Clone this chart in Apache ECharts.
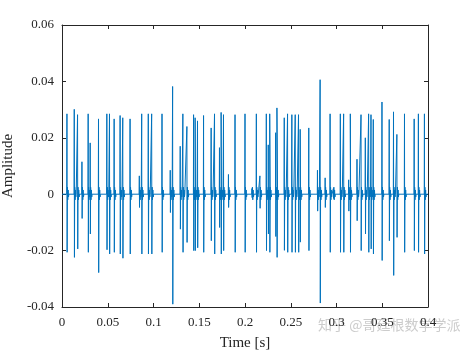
<!DOCTYPE html>
<html>
<head>
<meta charset="utf-8">
<script src="https://cdn.jsdelivr.net/npm/echarts@6/dist/echarts.min.js"></script>
<style>
  html, body { margin: 0; padding: 0; background: #fff; }
  #main { width: 474px; height: 355px; }
</style>
</head>
<body>
<div id="main"></div>
<script>
// spike times [s], positive peaks and negative troughs
let spikeTimes = [
    0.0054, 0.0134, 0.0170, 0.0218, 0.0286, 0.0308, 0.0399, 0.0490, 0.0519, 0.0570,
    0.0635, 0.0664, 0.0744, 0.0845, 0.0871, 0.0943, 0.0980, 0.1093, 0.1183, 0.1209,
    0.1292, 0.1321, 0.1365, 0.1438, 0.1455, 0.1481, 0.1547, 0.1630, 0.1667, 0.1721,
    0.1739, 0.1765, 0.1819, 0.1891, 0.2000, 0.2076, 0.2124, 0.2163, 0.2233, 0.2254,
    0.2270, 0.2335, 0.2349, 0.2429, 0.2465, 0.2512, 0.2549, 0.2585, 0.2603, 0.2697,
    0.2792, 0.2821, 0.2876, 0.2930, 0.2966, 0.3042, 0.3078, 0.3133, 0.3151, 0.3224,
    0.3268, 0.3315, 0.3351, 0.3377, 0.3402, 0.3497, 0.3576, 0.3623, 0.3660, 0.3743,
    0.3849, 0.3895, 0.3961
];
let spikePeaks = [
    0.0285, 0.0301, 0.0282, 0.0115, 0.0285, 0.0182, 0.0267, 0.0285, 0.0285, 0.0267,
    0.0279, 0.0271, 0.0267, 0.0065, 0.0285, 0.0285, 0.0285, 0.0285, 0.0085, 0.0382,
    0.0170, 0.0285, 0.0240, 0.0282, 0.0271, 0.0260, 0.0279, 0.0235, 0.0285, 0.0165,
    0.0290, 0.0282, 0.0070, 0.0282, 0.0285, 0.0020, 0.0285, 0.0065, 0.0285, 0.0175,
    0.0285, 0.0218, 0.0306, 0.0271, 0.0285, 0.0282, 0.0282, 0.0282, 0.0230, 0.0235,
    0.0085, 0.0406, 0.0058, 0.0285, 0.0020, 0.0285, 0.0285, 0.0051, 0.0285, 0.0124,
    0.0282, 0.0200, 0.0285, 0.0282, 0.0265, 0.0327, 0.0265, 0.0292, 0.0212, 0.0285,
    0.0267, 0.0285, 0.0285
];
let spikeTroughs = [
    -0.0206, -0.0224, -0.0194, -0.0086, -0.0206, -0.0141, -0.0278, -0.0197, -0.0212, -0.0206,
    -0.0212, -0.0227, -0.0212, -0.0047, -0.0212, -0.0212, -0.0212, -0.0206, -0.0065, -0.0390,
    -0.0124, -0.0206, -0.0171, -0.0200, -0.0200, -0.0190, -0.0206, -0.0165, -0.0212, -0.0118,
    -0.0212, -0.0200, -0.0047, -0.0206, -0.0206, -0.0012, -0.0206, -0.0050, -0.0200, -0.0141,
    -0.0206, -0.0150, -0.0224, -0.0199, -0.0206, -0.0206, -0.0206, -0.0206, -0.0170, -0.0200,
    -0.0060, -0.0386, -0.0047, -0.0206, -0.0015, -0.0206, -0.0206, -0.0060, -0.0206, -0.0094,
    -0.0200, -0.0141, -0.0206, -0.0194, -0.0212, -0.0235, -0.0165, -0.0288, -0.0153, -0.0206,
    -0.0200, -0.0206, -0.0212
];
// small ringing after each spike (blob at the baseline)
let ringing = [0.0025, -0.002, 0.0015, -0.001];

let xTicks = [0, 0.05, 0.1, 0.15, 0.2, 0.25, 0.3, 0.35, 0.4];
let yTicks = [-0.04, -0.02, 0, 0.02, 0.04, 0.06];

// build the line from the spike table
let signal = [[0, 0]];
spikeTimes.forEach((t, i) => {
    signal.push([t - 0.0002, 0]);
    signal.push([t, spikePeaks[i]]);
    signal.push([t + 0.0002, spikeTroughs[i]]);
    ringing.forEach((r, k) => signal.push([t + 0.0005 + k * 0.0004, r]));
    signal.push([t + 0.0005 + ringing.length * 0.0004, 0]);
});
signal.push([0.4, 0]);

let myChart = echarts.init(document.getElementById('main'));
let fmt = v => String(Number(v.toFixed(3)));
let axisStyle = { show: true, onZero: false, lineStyle: { color: '#262626', width: 1 } };
let tickStyle = { show: true, inside: true, length: 4, lineStyle: { color: '#262626' } };
let labelFont = { fontFamily: 'Liberation Serif', fontSize: 13, color: '#262626' };
let nameFont = { fontFamily: 'Liberation Serif', fontSize: 15, color: '#262626' };

let option = {
    animation: false,
    backgroundColor: '#fff',
    grid: { left: 62, right: 46, top: 25, bottom: 48, outerBoundsMode: 'none' },
    xAxis: [{
        type: 'value',
        min: xTicks[0],
        max: xTicks[xTicks.length - 1],
        interval: 0.05,
        name: 'Time [s]',
        nameLocation: 'middle',
        nameGap: 29,
        nameTextStyle: nameFont,
        axisLine: axisStyle,
        axisTick: tickStyle,
        axisLabel: Object.assign({ formatter: fmt, margin: 9 }, labelFont),
        splitLine: { show: false }
    }, {
        type: 'value',
        position: 'top',
        min: xTicks[0],
        max: xTicks[xTicks.length - 1],
        interval: 0.05,
        axisLine: axisStyle,
        axisTick: tickStyle,
        axisLabel: { show: false },
        splitLine: { show: false }
    }],
    yAxis: [{
        type: 'value',
        min: yTicks[0],
        max: yTicks[yTicks.length - 1],
        interval: 0.02,
        name: 'Amplitude',
        nameLocation: 'middle',
        nameGap: 39,
        nameTextStyle: nameFont,
        axisLine: axisStyle,
        axisTick: tickStyle,
        axisLabel: Object.assign({ formatter: fmt, margin: 8 }, labelFont),
        splitLine: { show: false }
    }, {
        type: 'value',
        position: 'right',
        min: yTicks[0],
        max: yTicks[yTicks.length - 1],
        interval: 0.02,
        axisLine: axisStyle,
        axisTick: tickStyle,
        axisLabel: { show: false },
        splitLine: { show: false }
    }],
    graphic: [{
        type: 'text',
        left: 318,
        top: 318,
        style: {
            text: '知乎 @哥廷根数学学派',
            font: '14px "Noto Sans CJK SC"',
            fill: 'rgba(195,195,195,0.85)'
        }
    }],
    series: [{
        type: 'line',
        data: signal,
        showSymbol: false,
        sampling: 'none',
        lineStyle: { color: '#0072BD', width: 1 },
        z: 1
    }]
};
myChart.setOption(option);
</script>
</body>
</html>
